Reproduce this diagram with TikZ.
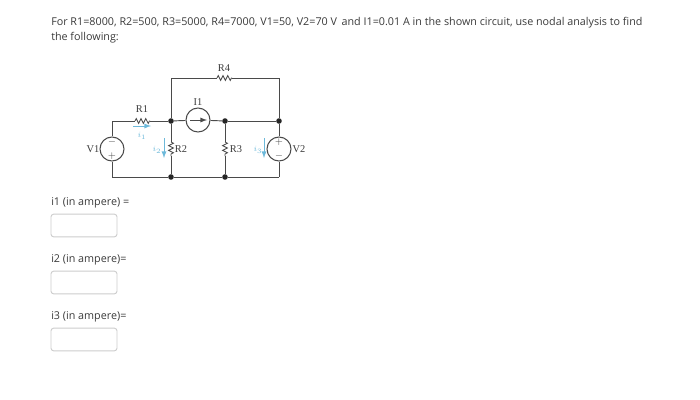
\documentclass[tikz,border=0pt]{standalone}
\usepackage{fontspec}
\setmainfont{Open Sans}
\newfontfamily\labelfont{Liberation Serif}
\usetikzlibrary{decorations.pathmorphing}
\definecolor{inktext}{HTML}{3A3A3A}
\definecolor{inkwire}{HTML}{4A4A4A}
\definecolor{currentblue}{HTML}{6DB9DA}
\definecolor{boxgray}{HTML}{CCCCCC}
\begin{document}
\begin{tikzpicture}
[x=0.75pt,y=-0.75pt,
  textdecorate/.style={anchor=west,inner sep=0pt,text=inktext,font=\fontsize{8.07}{10}\selectfont},%
  boxdecorate/.style={draw=boxgray,rounded corners=2pt,line width=0.7pt,minimum width=49.5pt,minimum height=17pt,inner sep=0pt},%
  dotdecorate/.style={shape=circle,fill=black!85,inner sep=0pt,minimum size=4.2pt},%
  srcdecorate/.style={shape=circle,draw=inkwire,line width=0.8pt,inner sep=0pt,minimum size=18pt},%
  signdecorate/.style={inner sep=0pt,text=inkwire,font=\fontsize{7}{7}\selectfont},%
  labeldecorate/.style={inner sep=0pt,text=inktext,font=\labelfont\fontsize{7.8}{9}\selectfont},%
  curdecorate/.style={inner sep=0pt,text=currentblue,font=\labelfont\itshape\fontsize{6}{7}\selectfont},%
  linedecorate/.style={-,draw=inkwire,line width=0.7pt},%
  zigdecorate/.style={draw=inkwire,line width=0.65pt,decorate,decoration={zigzag,segment length=3.6pt,amplitude=1.8pt}},%
  arrowdecorate/.style={->,>=latex,draw=currentblue,line width=0.7pt}]
\useasboundingbox (0,0) rectangle (700,400);
% question text
\node (line1) at (51,23) [textdecorate] {For R1=8000, R2=500, R3=5000, R4=7000, V1=50, V2=70 V\, and I1=0.01 A in the shown circuit, use nodal analysis to find};
\node (line2) at (51,38) [textdecorate] {the following:};
% answers
\node (ask1) at (51,202.5) [textdecorate] {i1 (in ampere) =};
\node (box1) at (84,225.5) [boxdecorate] {};
\node (ask2) at (51,259.5) [textdecorate] {i2 (in ampere)=};
\node (box2) at (84,282.5) [boxdecorate] {};
\node (ask3) at (51,316.5) [textdecorate] {i3 (in ampere)=};
\node (box3) at (84,339.5) [boxdecorate] {};
% junctions
\node (a) at (171,121) [dotdecorate] {};
\node (b) at (225,121) [dotdecorate] {};
\node (c) at (279,121) [dotdecorate] {};
\node (d) at (171,177) [dotdecorate] {};
\node (e) at (225,177) [dotdecorate] {};
% corners
\coordinate (tl) at (112,121);
\coordinate (bl) at (112,177);
\coordinate (br) at (279,177);
\coordinate (ta) at (171,78);
\coordinate (tc) at (279,78);
% sources
\node (V1) at (112,149) [srcdecorate] {};
\node [labeldecorate] at (93,149) {V1};
\node [signdecorate] at (112,142) {$-$};
\node [signdecorate] at (112,156) {$+$};
\node (V2) at (279,149) [srcdecorate] {};
\node [labeldecorate] at (299,149) {V2};
\node [signdecorate] at (279,142) {$+$};
\node [signdecorate] at (279,156) {$-$};
\node (I1) at (198,120) [srcdecorate] {};
\node [labeldecorate] at (198,102) {I1};
\coordinate (I1w) at (190,120);
\coordinate (I1e) at (207,120);
% resistor ends
\coordinate (R1w) at (135,121);
\coordinate (R1e) at (150,121);
\node [labeldecorate] at (142,109) {R1};
\coordinate (R2n) at (171,142);
\coordinate (R2s) at (171,156);
\node [labeldecorate] at (181,149) {R2};
\coordinate (R3n) at (225,142);
\coordinate (R3s) at (225,156);
\node [labeldecorate] at (236,149) {R3};
\coordinate (R4w) at (217,78);
\coordinate (R4e) at (232,78);
\node [labeldecorate] at (224,68.5) {R4};
% currents
\coordinate (i1w) at (133,126);
\coordinate (i1e) at (151,126);
\node [curdecorate] at (142,136) {$i_1$};
\coordinate (i2n) at (164,138);
\coordinate (i2s) at (164,158);
\node [curdecorate] at (157,150) {$i_2$};
\coordinate (i3n) at (264,138);
\coordinate (i3s) at (264,158);
\node [curdecorate] at (258,150) {$i_3$};
% edges or lines
\path
(V1) edge[linedecorate] (tl)
(tl) edge[linedecorate] (R1w)
(R1e) edge[linedecorate] (a)
(V1) edge[linedecorate] (bl)
(bl) edge[linedecorate] (d)
(d) edge[linedecorate] (e)
(e) edge[linedecorate] (br)
(br) edge[linedecorate] (V2)
(V2) edge[linedecorate] (c)
(c) edge[linedecorate] (b)
(b) edge[linedecorate] (I1)
(I1) edge[linedecorate] (a)
(a) edge[linedecorate] (ta)
(ta) edge[linedecorate] (R4w)
(R4e) edge[linedecorate] (tc)
(tc) edge[linedecorate] (c)
(a) edge[linedecorate] (R2n)
(R2s) edge[linedecorate] (d)
(b) edge[linedecorate] (R3n)
(R3s) edge[linedecorate] (e);
\draw[zigdecorate] (R1w) -- (R1e);
\draw[zigdecorate] (R4w) -- (R4e);
\draw[zigdecorate] (R2n) -- (R2s);
\draw[zigdecorate] (R3n) -- (R3s);
\draw[->,>=latex,draw=inkwire,line width=0.7pt] (I1w) -- (I1e);
\draw[arrowdecorate] (i1w) -- (i1e);
\draw[arrowdecorate] (i2n) -- (i2s);
\draw[arrowdecorate] (i3n) -- (i3s);
\end{tikzpicture}
\end{document}
